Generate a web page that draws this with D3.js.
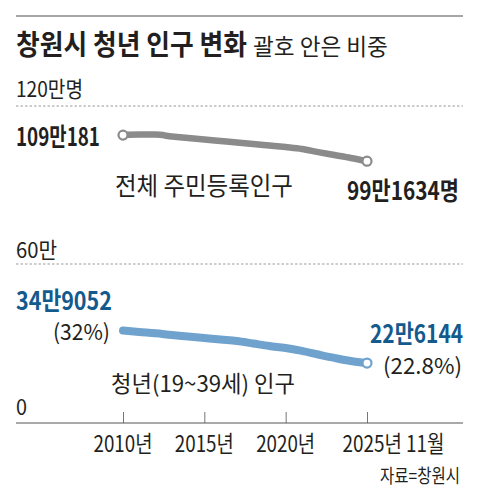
<!DOCTYPE html>
<html>
<head>
<meta charset="utf-8">
<script src="https://cdn.jsdelivr.net/npm/d3@7"></script>
<style>
  html, body { margin: 0; padding: 0; background: #fff; }
  svg { display: block; }
  text { font-family: "Noto Sans CJK KR", "Noto Sans", sans-serif; fill: #231f20; }
</style>
</head>
<body>
<svg id="chart" width="480" height="502"></svg>
<script>
// ---- data (만 명) ----
const years = [2010, 2011, 2012, 2013, 2014, 2015, 2016, 2017, 2018, 2019, 2020, 2021, 2022, 2023, 2024, 2025];
const totalPop = [109.0181, 109.2, 109.2, 108.5, 107.9, 107.4, 106.8, 106.2, 105.7, 105.1, 104.5, 103.8, 102.6, 101.5, 100.4, 99.1634];
const youthPop = [34.9052, 34.35, 33.85, 33.2, 32.65, 32.1, 31.5, 30.95, 30.0, 29.05, 28.3, 27.2, 25.85, 24.55, 23.4, 22.6144];
const youthShare = ["32%", "22.8%"];
const tickYears = [2010, 2015, 2020, 2025];
const tickLabels = ["2010년", "2015년", "2020년", "2025년 11월"];
const topAxisLabel = "120만명";
const bottomAxisLabels = ["60만", "0"];

const svg = d3.select("#chart");
const INK = "#231f20", BLUE_TXT = "#145a8d", BLUE = "#6fa3ce", GRAY = "#8b8b8b";

const x = d3.scaleLinear().domain([2010, 2025]).range([123, 367]);
const yTop = d3.scaleLinear().domain([120, 100]).range([106, 159]);
const yBot = d3.scaleLinear().domain([0, 60]).range([423, 264]);

// text helper: condensed horizontally via transform to a target width
function txt(str, px, py, o) {
  const t = svg.append("text")
    .attr("x", 0).attr("y", 0)
    .attr("font-size", o.size)
    .attr("font-weight", o.weight || 400)
    .attr("text-anchor", o.anchor || "start")
    .style("fill", o.fill || INK)
    .text(str);
  let sx = 1;
  if (o.w) {
    const len = t.node().getComputedTextLength();
    if (len > 0) sx = o.w / len;
  }
  t.attr("transform", `translate(${px},${py}) scale(${sx},1)`);
  return t;
}

// top rule
svg.append("line").attr("x1", 16).attr("x2", 463).attr("y1", 16).attr("y2", 16)
  .attr("stroke", "#8a8a8a").attr("stroke-width", 1.3);

// title
txt("창원시 청년 인구 변화", 16, 54.5, {size: 28, weight: 700, w: 231});
txt("괄호 안은 비중", 253, 54.5, {size: 22.5, w: 135});

// grid labels / dotted lines
txt(topAxisLabel, 16, 96.5, {size: 21.5, w: 67});
svg.append("line").attr("x1", 16).attr("x2", 463).attr("y1", yTop(120)).attr("y2", yTop(120))
  .attr("stroke", "#9a9a9a").attr("stroke-width", 1).attr("stroke-dasharray", "2.5,2");
txt(bottomAxisLabels[0], 16, 258, {size: 21.5, w: 41});
svg.append("line").attr("x1", 16).attr("x2", 463).attr("y1", yBot(60)).attr("y2", yBot(60))
  .attr("stroke", "#9a9a9a").attr("stroke-width", 1).attr("stroke-dasharray", "2.5,2");
txt(bottomAxisLabels[1], 16, 415, {size: 21.5, w: 11});

// axis
const axis = d3.axisBottom(x).tickValues(tickYears).tickSize(-11).tickFormat("");
const gA = svg.append("g").attr("transform", `translate(0,${yBot(0)})`).call(axis);
gA.select(".domain").remove();
gA.selectAll(".tick line").attr("stroke", "#777").attr("stroke-width", 1);
svg.append("line").attr("x1", 16).attr("x2", 463).attr("y1", yBot(0)).attr("y2", yBot(0))
  .attr("stroke", "#555").attr("stroke-width", 1.2);

tickYears.forEach((yr, i) => {
  if (i < tickYears.length - 1) {
    txt(tickLabels[i], x(yr), 452, {size: 22.5, anchor: "middle", w: 59});
  } else {
    txt(tickLabels[i], x(yr) - 24.5, 452, {size: 22.5, w: 102});
  }
});

// lines
const lineTop = d3.line().x((d, i) => x(years[i])).y(d => yTop(d)).curve(d3.curveMonotoneX);
const lineBot = d3.line().x((d, i) => x(years[i])).y(d => yBot(d)).curve(d3.curveMonotoneX);

svg.append("path").attr("d", lineTop(totalPop)).attr("fill", "none")
  .attr("stroke", GRAY).attr("stroke-width", 6.5).attr("stroke-linecap", "round");
svg.append("path").attr("d", lineBot(youthPop)).attr("fill", "none")
  .attr("stroke", BLUE).attr("stroke-width", 8).attr("stroke-linecap", "round");

// end markers
[0, totalPop.length - 1].forEach(i => {
  svg.append("circle").attr("cx", x(years[i])).attr("cy", yTop(totalPop[i])).attr("r", 4.5)
    .attr("fill", "#fff").attr("stroke", GRAY).attr("stroke-width", 2.2);
});
svg.append("circle").attr("cx", x(years[years.length - 1])).attr("cy", yBot(youthPop[youthPop.length - 1])).attr("r", 4.5)
  .attr("fill", "#fff").attr("stroke", BLUE).attr("stroke-width", 2.2);

// value labels
function fmtMan(v, unit) {
  const man = Math.floor(v + 1e-9);
  const rest = Math.round((v - man) * 10000);
  return man + "만" + rest + (unit || "");
}
txt(fmtMan(totalPop[0]), 16, 145.5, {size: 25, weight: 700, w: 84});
txt(fmtMan(totalPop[totalPop.length - 1], "명"), 459, 199.5, {size: 25, weight: 700, anchor: "end", w: 112});
txt("전체 주민등록인구", 115, 195, {size: 24.5, w: 178});

txt(fmtMan(youthPop[0]), 16, 310, {size: 25, weight: 700, fill: BLUE_TXT, w: 96});
txt("(" + youthShare[0] + ")", 53, 340, {size: 22, w: 57});
txt(fmtMan(youthPop[youthPop.length - 1]), 463, 343, {size: 25, weight: 700, fill: BLUE_TXT, anchor: "end", w: 93});
txt("(" + youthShare[1] + ")", 462, 374, {size: 22, anchor: "end", w: 79});
txt("청년(19~39세) 인구", 111, 392, {size: 22.5, w: 184});

txt("자료=창원시", 460, 483, {size: 19, anchor: "end", w: 80});
</script>
</body>
</html>
